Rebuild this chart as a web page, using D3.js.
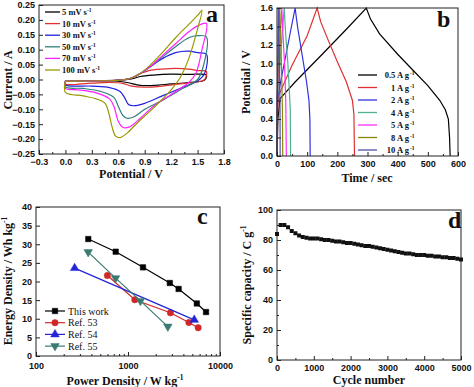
<!DOCTYPE html>
<html><head><meta charset="utf-8">
<script src="https://cdn.jsdelivr.net/npm/d3@7"></script>
<style>body{margin:0;background:#fff}</style>
</head><body><svg id="fig" width="474" height="387"></svg>
<script>
// ---- panel a: cyclic voltammograms [V, A], anodic then cathodic sweep
var cvLabels = ["5 mV s", "10 mV s", "30 mV s", "50 mV s", "70 mV s", "100 mV s"];
var cvColors = ["#000000", "#e03030", "#2020e0", "#2f8078", "#ff20ff", "#999900"];
var cv5 = [[0,-0.005],[0.6,-0.002],[0.75,0.002],[0.85,0.01],[1.0,0.015],[1.2,0.018],[1.4,0.017],[1.6,0.015],
  [1.58,-0.002],[1.4,-0.01],[1.2,-0.015],[1.0,-0.02],[0.85,-0.02],[0.7,-0.01],[0.55,-0.005],[0,-0.005]];
var cv10 = [[0,-0.005],[0.6,-0.002],[0.75,0.005],[0.85,0.02],[0.95,0.03],[1.1,0.035],[1.25,0.037],[1.4,0.035],[1.5,0.03],[1.6,0.027],
  [1.58,0.0],[1.5,-0.008],[1.3,-0.015],[1.1,-0.022],[0.9,-0.026],[0.75,-0.022],[0.65,-0.013],[0.5,-0.01],[0.3,-0.012],[0,-0.015],[0,-0.005]];
var cv30 = [[0,-0.005],[0.6,-0.003],[0.75,0.005],[0.85,0.02],[0.95,0.04],[1.1,0.07],[1.25,0.09],[1.4,0.095],[1.5,0.09],[1.6,0.085],
  [1.58,0.02],[1.5,-0.005],[1.3,-0.03],[1.1,-0.055],[0.9,-0.08],[0.78,-0.088],[0.72,-0.085],[0.67,-0.06],[0.62,-0.04],[0.5,-0.027],[0.3,-0.022],[0,-0.018],[0,-0.005]];
var cv50 = [[0,-0.005],[0.6,-0.003],[0.75,0.005],[0.85,0.02],[0.95,0.04],[1.1,0.075],[1.25,0.11],[1.4,0.14],[1.5,0.147],[1.6,0.143],
  [1.57,0.05],[1.5,0.0],[1.3,-0.035],[1.1,-0.07],[0.9,-0.1],[0.78,-0.125],[0.7,-0.13],[0.65,-0.12],[0.6,-0.09],[0.55,-0.06],[0.4,-0.04],[0.2,-0.03],[0,-0.025],[0,-0.005]];
var cv70 = [[0,-0.005],[0.6,-0.003],[0.75,0.005],[0.85,0.02],[0.95,0.04],[1.1,0.08],[1.25,0.12],[1.4,0.16],[1.5,0.18],[1.6,0.188],
  [1.55,0.1],[1.48,0.02],[1.4,-0.01],[1.2,-0.05],[1.0,-0.09],[0.85,-0.13],[0.72,-0.16],[0.65,-0.16],[0.6,-0.14],[0.55,-0.09],[0.5,-0.065],[0.35,-0.045],[0.15,-0.035],[0,-0.03],[0,-0.005]];
var cv100 = [[0,-0.005],[0.3,-0.005],[0.6,-0.003],[0.75,0.005],[0.85,0.02],[0.95,0.045],[1.1,0.09],[1.25,0.14],[1.4,0.185],[1.5,0.215],[1.55,0.232],
  [1.5,0.17],[1.4,0.07],[1.3,0.005],[1.2,-0.035],[1.0,-0.095],[0.8,-0.15],[0.7,-0.18],[0.62,-0.195],[0.57,-0.19],[0.53,-0.16],[0.49,-0.11],[0.45,-0.08],[0.35,-0.065],[0.2,-0.055],[0,-0.043],[0,-0.005]];
var cvSeries = [cv5, cv10, cv30, cv50, cv70, cv100];

// ---- panel b: charge/discharge [s, V]
var gcdLabels = ["0.5 A g", "1 A g", "2 A g", "4 A g", "5 A g", "8 A g", "10 A g"];
var gcdColors = ["#000000", "#e03030", "#3030e0", "#50b090", "#ff30ff", "#888800", "#5050a8"];
var gcd05 = [[0,0],[3,0.4],[10,0.62],[60,0.8],[150,1.1],[230,1.37],[296,1.6],[310,1.48],[340,1.32],[400,1.1],[450,0.93],[500,0.76],[540,0.6],[558,0.5],[568,0.4],[572,0.2],[574,0]];
var gcd1 = [[0,0],[2,0.5],[5,0.65],[50,0.98],[100,1.3],[133,1.6],[145,1.45],[170,1.25],[200,1.02],[230,0.8],[250,0.6],[255,0.45],[256,0.2],[257,0]];
var gcd2 = [[0,0],[1,0.5],[3,0.65],[30,1.1],[60,1.6],[68,1.4],[83,1.1],[98,0.8],[106,0.6],[109,0.4],[110,0]];
var gcd4 = [[0,0],[1,0.5],[2,0.65],[12,1.1],[24,1.6],[29,1.3],[36,1.0],[41,0.7],[44,0.5],[45,0]];
var gcd5 = [[0,0],[1,0.65],[8,1.1],[16,1.6],[20,1.3],[25,1.0],[29,0.6],[31,0]];
var gcd8 = [[0,0],[1,0.6],[9,1.6],[13,1.2],[16,0.8],[18,0.5],[19,0]];
var gcd10 = [[0,0],[1,0.6],[5,1.6],[7,1.2],[9,0.8],[10,0.5],[10.5,0]];
var gcdSeries = [gcd05, gcd1, gcd2, gcd4, gcd5, gcd8, gcd10];

// ---- panel c: Ragone plot [W/kg, Wh/kg]
var ragLabels = ["This work", "Ref. 53", "Ref. 54", "Ref. 55"];
var ragColors = ["#000000", "#d02828", "#2424d8", "#3a7a72"];
var ragThis = [[370,31.4],[735,28],[1455,23.8],[2850,19.6],[3550,18],[5600,14.1],[7050,11.8]];
var rag53 = [[597,21.6],[1186,15.1],[2890,11.6],[4590,9],[5790,7.6]];
var rag54 = [[263,23.6],[5250,9.7]];
var rag55 = [[369,27.9],[733,20.9],[1365,14.8],[2710,7.9]];
var ragSeries = [ragThis, rag53, rag54, rag55];

// ---- panel d: cycling stability
var cycleNo = d3.range(0, 5001, 100);
var capacity = [84,90,90,88.5,86,84.5,83,82,81.5,81,81,81,80.5,80,80,79.5,79,79,78.5,78,78,77.5,77,76.5,76,76,75.5,75,74.5,74,73.5,73,72.5,72,71.5,71,71,70.5,70,70,70,69.5,69.5,69,69,68.5,68.5,68,68,67.5,67];

var svg = d3.select("#fig");
var serif = "'Liberation Serif','Times New Roman',serif";
var sans = "'Liberation Sans',Arial,sans-serif";

function frame(b, x, y, xt, yt, xmin, ymin, xf, yf, xpad) {
  var g = svg.append("g");
  var xa = d3.axisBottom(x).tickValues(xt).tickSize(-4).tickPadding(xpad || 5).tickFormat(xf);
  var ya = d3.axisLeft(y).tickValues(yt).tickSize(-4).tickPadding(4).tickFormat(yf);
  g.append("g").attr("transform", "translate(0," + b.y1 + ")").call(xa);
  g.append("g").attr("transform", "translate(" + b.x0 + ",0)").call(ya);
  if (xmin) g.append("g").attr("transform", "translate(0," + b.y1 + ")")
    .call(d3.axisBottom(x).tickValues(xmin).tickSize(-2).tickFormat(""));
  if (ymin) g.append("g").attr("transform", "translate(" + b.x0 + ",0)")
    .call(d3.axisLeft(y).tickValues(ymin).tickSize(-2).tickFormat(""));
  g.selectAll(".domain").remove();
  g.selectAll(".tick line").attr("stroke", "#222");
  g.selectAll(".tick text").attr("font-family", sans).attr("font-weight", "bold")
    .attr("font-size", 9).attr("fill", "#111");
  g.append("rect").attr("x", b.x0).attr("y", b.y0).attr("width", b.x1 - b.x0).attr("height", b.y1 - b.y0)
    .attr("fill", "none").attr("stroke", "#222").attr("stroke-width", 1);
  return g;
}

function title(txt, x, y, rot, sup) {
  var t = svg.append("text").attr("font-family", serif).attr("font-weight", "bold").attr("font-size", 12)
    .attr("text-anchor", "middle").attr("fill", "#111")
    .attr("transform", "translate(" + x + "," + y + ")" + (rot ? " rotate(-90)" : ""));
  t.append("tspan").text(txt);
  if (sup) t.append("tspan").attr("dy", -5).attr("font-size", 7.5).text(sup);
}

function letter(ch, x, y) {
  svg.append("text").attr("x", x).attr("y", y).attr("font-family", serif).attr("font-weight", "bold")
    .attr("font-size", 24).attr("fill", "#111").text(ch);
}

// ===== a
var bA = {x0: 39, x1: 224, y0: 5, y1: 154};
var xA = d3.scaleLinear().domain([-0.3, 1.8]).range([bA.x0, bA.x1]);
var yA = d3.scaleLinear().domain([-0.25, 0.25]).range([bA.y1, bA.y0]);
var lineA = d3.line().x(function(d){ return xA(d[0]); }).y(function(d){ return yA(d[1]); }).curve(d3.curveCatmullRom);
cvSeries.forEach(function(s, i) {
  svg.append("path").datum(s).attr("d", lineA).attr("fill", "none").attr("stroke", cvColors[i]).attr("stroke-width", 1.2);
});
frame(bA, xA, yA, d3.range(-0.3, 1.81, 0.3), d3.range(-0.25, 0.251, 0.05),
  d3.range(-0.15, 1.8, 0.3), null, d3.format(".1f"), d3.format(".2f"));
cvLabels.forEach(function(l, i) {
  var yy = 12 + i * 11.6;
  svg.append("line").attr("x1", 45).attr("x2", 60).attr("y1", yy).attr("y2", yy).attr("stroke", cvColors[i]).attr("stroke-width", 1.3);
  var t = svg.append("text").attr("x", 62).attr("y", yy + 3).attr("font-family", serif).attr("font-weight", "bold").attr("font-size", 8.5).attr("fill", "#111");
  t.append("tspan").text(l);
  t.append("tspan").attr("dy", -3).attr("font-size", 5.5).text("-1");
});
title("Potential / V", 131, 178, false);
title("Current / A", 12, 80, true);
letter("a", 206, 22);

// ===== b
var bB = {x0: 277, x1: 458, y0: 8, y1: 156};
var xB = d3.scaleLinear().domain([0, 600]).range([bB.x0, bB.x1]);
var yB = d3.scaleLinear().domain([0, 1.6]).range([bB.y1, bB.y0]);
var lineB = d3.line().x(function(d){ return xB(d[0]); }).y(function(d){ return yB(d[1]); });
gcdSeries.forEach(function(s, i) {
  svg.append("path").datum(s).attr("d", lineB).attr("fill", "none").attr("stroke", gcdColors[i]).attr("stroke-width", 1.2);
});
frame(bB, xB, yB, d3.range(0, 601, 100), d3.range(0, 1.61, 0.2),
  d3.range(50, 600, 100), null, d3.format("d"), d3.format(".1f"));
gcdLabels.forEach(function(l, i) {
  var yy = 75 + i * 12.5;
  svg.append("line").attr("x1", 358).attr("x2", 377).attr("y1", yy).attr("y2", yy).attr("stroke", gcdColors[i]).attr("stroke-width", 1.3);
  svg.append("text").attr("x", 409).attr("y", yy + 3).attr("text-anchor", "end").attr("font-family", serif).attr("font-weight", "bold").attr("font-size", 8.5).attr("fill", "#111").text(l);
  svg.append("text").attr("x", 410).attr("y", yy).attr("font-family", serif).attr("font-weight", "bold").attr("font-size", 5.5).attr("fill", "#111").text("-1");
});
title("Time / sec", 367, 182, false);
title("Potential / V", 250, 82, true);
letter("b", 437, 27);

// ===== c
var bC = {x0: 36, x1: 220, y0: 207, y1: 356};
var xC = d3.scaleLog().domain([100, 10000]).range([bC.x0, bC.x1]);
var yC = d3.scaleLinear().domain([0, 40]).range([bC.y1, bC.y0]);
var lineC = d3.line().x(function(d){ return xC(d[0]); }).y(function(d){ return yC(d[1]); });
var minC = [200,300,400,500,600,700,800,900,2000,3000,4000,5000,6000,7000,8000,9000];
frame(bC, xC, yC, [100, 1000, 10000], d3.range(0, 41, 5), minC, null, d3.format("d"), d3.format("d"), 7);
var symC = [d3.symbolSquare, d3.symbolCircle, d3.symbolTriangle, d3.symbolTriangle];
function marker(g, i, x, y) {
  var p = g.append("path").attr("d", d3.symbol().type(symC[i]).size(i === 0 ? 30 : 32)())
    .attr("fill", ragColors[i]).attr("stroke", ragColors[i]).attr("stroke-width", 0.5);
  p.attr("transform", "translate(" + x + "," + y + ")" + (i === 3 ? " rotate(180)" : ""));
}
ragSeries.forEach(function(s, i) {
  svg.append("path").datum(s).attr("d", lineC).attr("fill", "none").attr("stroke", ragColors[i]).attr("stroke-width", 1.2);
  var g = svg.append("g");
  s.forEach(function(d) { marker(g, i, xC(d[0]), yC(d[1])); });
});
ragLabels.forEach(function(l, i) {
  var yy = 311 + i * 11.7;
  svg.append("line").attr("x1", 45).attr("x2", 65).attr("y1", yy).attr("y2", yy).attr("stroke", ragColors[i]).attr("stroke-width", 1.2);
  marker(svg.append("g"), i, 55, yy);
  svg.append("text").attr("x", 68).attr("y", yy + 3.5).attr("font-family", serif).attr("font-size", 10).attr("fill", "#111").text(l);
});
title("Power Density / W kg", 125, 385, false, "-1");
title("Energy Density / Wh kg", 12, 281, true, "-1");
letter("c", 197, 224);

// ===== d
var bD = {x0: 277, x1: 461, y0: 210, y1: 360};
var xD = d3.scaleLinear().domain([0, 5000]).range([bD.x0, bD.x1]);
var yD = d3.scaleLinear().domain([0, 100]).range([bD.y1, bD.y0]);
frame(bD, xD, yD, d3.range(0, 5001, 1000), d3.range(0, 101, 20),
  d3.range(500, 5000, 1000), d3.range(10, 100, 20), d3.format("d"), d3.format("d"));
svg.append("g").selectAll("rect").data(cycleNo).join("rect")
  .attr("x", function(d){ return xD(d) - 2; })
  .attr("y", function(d, i){ return yD(capacity[i]) - 2; })
  .attr("width", 4).attr("height", 4).attr("fill", "#111");
title("Cycle number", 369, 384, false);
title("Specific capacity / C g", 251, 285, true, "-1");
letter("d", 448, 228);
</script></body></html>
